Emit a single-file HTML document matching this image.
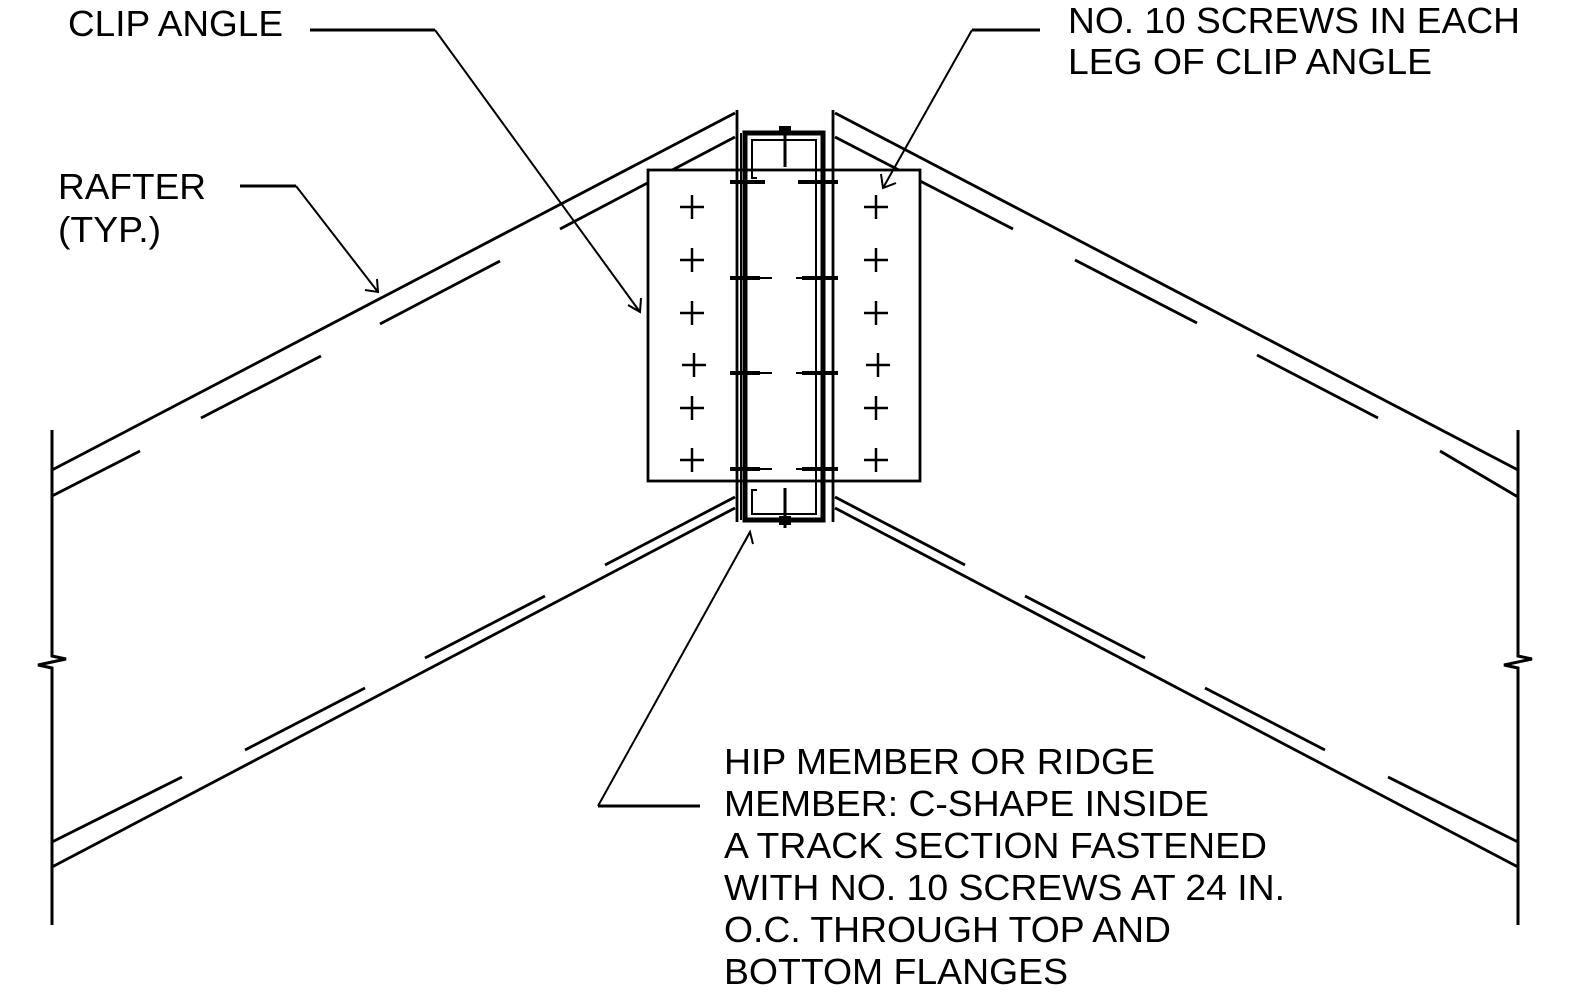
<!DOCTYPE html>
<html><head><style>html,body{margin:0;padding:0;background:#fff}svg{display:block}</style></head>
<body>
<svg width="1570" height="997" viewBox="0 0 1570 997" xmlns="http://www.w3.org/2000/svg" font-family="Liberation Sans, Arial, sans-serif" font-size="36" fill="#000">
<g stroke="#000" stroke-width="2.8" fill="none" stroke-linecap="butt">
<line x1="52" y1="470" x2="735" y2="113"/>
<line x1="52" y1="496" x2="140" y2="451"/>
<line x1="201" y1="418" x2="321" y2="356"/>
<line x1="380" y1="324" x2="500" y2="261"/>
<line x1="560" y1="229" x2="735" y2="137"/>
<line x1="52" y1="867" x2="735" y2="508"/>
<line x1="52" y1="842" x2="182" y2="777"/>
<line x1="245" y1="750" x2="365" y2="688"/>
<line x1="425" y1="658" x2="545" y2="596"/>
<line x1="605" y1="565" x2="735" y2="497"/>
<line x1="835" y1="113" x2="1518" y2="470"/>
<line x1="835" y1="137" x2="1013" y2="229"/>
<line x1="1075" y1="260" x2="1197" y2="323"/>
<line x1="1257" y1="355" x2="1378" y2="418"/>
<line x1="1440" y1="451" x2="1518" y2="497"/>
<line x1="835" y1="508" x2="1518" y2="867"/>
<line x1="835" y1="497" x2="965" y2="565"/>
<line x1="1025" y1="596" x2="1145" y2="658"/>
<line x1="1205" y1="688" x2="1325" y2="750"/>
<line x1="1388" y1="777" x2="1518" y2="842"/>
<polyline stroke-width="3" points="52,430 52,656 66,659 38,665 52,668 52,925"/>
<polyline stroke-width="3" points="1518,430 1518,656 1532,659 1504,665 1518,668 1518,925"/>
<line x1="737" y1="110" x2="737" y2="522"/>
<line x1="833" y1="110" x2="833" y2="522"/>
<rect x="648" y="170" width="272" height="311" fill="#fff"/>
<line x1="737" y1="170" x2="737" y2="481"/>
<line x1="833" y1="170" x2="833" y2="481"/>
<rect x="745" y="133" width="78" height="387" stroke-width="5"/>
<polyline stroke-width="2" points="757,178 752,178 752,140 816,140 816,514 752,514 752,490 757,490"/>
<line x1="741" y1="133" x2="741" y2="520" stroke-width="2"/>
<line x1="785" y1="126" x2="785" y2="167" stroke-width="3"/>
<rect x="779" y="126" width="12" height="8" fill="#000" stroke="none"/>
<line x1="785" y1="488" x2="785" y2="528" stroke-width="3"/>
<rect x="779" y="516" width="12" height="9" fill="#000" stroke="none"/>
<g stroke-width="4">
<line x1="730" y1="182" x2="765" y2="182"/><line x1="798" y1="182" x2="838" y2="182"/>
<line x1="730" y1="278" x2="760" y2="278"/><line x1="802" y1="278" x2="838" y2="278"/>
<line x1="730" y1="373" x2="760" y2="373"/><line x1="802" y1="373" x2="838" y2="373"/>
<line x1="730" y1="469" x2="760" y2="469"/><line x1="802" y1="469" x2="838" y2="469"/>
</g>
<g stroke-width="2">
<line x1="760" y1="278" x2="772" y2="278"/><line x1="796" y1="278" x2="802" y2="278"/>
<line x1="760" y1="373" x2="772" y2="373"/><line x1="796" y1="373" x2="802" y2="373"/>
<line x1="760" y1="469" x2="772" y2="469"/><line x1="796" y1="469" x2="802" y2="469"/>
</g>
<g stroke-width="2.5">
<path d="M680 207h24M692 195v24 M680 260h24M692 248v24 M680 313h24M692 301v24 M682 365h24M694 353v24 M680 408h24M692 396v24 M680 460h24M692 448v24"/>
<path d="M864 207h24M876 195v24 M864 260h24M876 248v24 M864 313h24M876 301v24 M866 365h24M878 353v24 M864 408h24M876 396v24 M864 460h24M876 448v24"/>
</g>
<polyline stroke-width="3" points="310,30 435,30"/>
<polyline stroke-width="2" points="435,30 640,312"/>
<polyline stroke-width="2" points="628,305 640,312 641,298"/>
<polyline stroke-width="3" points="1040,30 972,30"/>
<polyline stroke-width="2" points="972,30 883,188"/>
<polyline stroke-width="2" points="881,174 883,188 896,183"/>
<polyline stroke-width="3" points="240,186 296,186"/>
<polyline stroke-width="2" points="296,186 378,292"/>
<polyline stroke-width="2" points="365,290 378,292 377,279"/>
<polyline stroke-width="3" points="700,806 598,806"/>
<polyline stroke-width="2" points="598,806 750,532"/>
<polyline stroke-width="2" points="744,543 750,532 753,544"/>
</g>
<g stroke="none">
<text x="68" y="36" textLength="215" lengthAdjust="spacingAndGlyphs">CLIP ANGLE</text>
<text x="1068" y="33" textLength="452" lengthAdjust="spacingAndGlyphs">NO. 10 SCREWS IN EACH</text>
<text x="1068" y="74" textLength="364" lengthAdjust="spacingAndGlyphs">LEG OF CLIP ANGLE</text>
<text x="58" y="199" textLength="148" lengthAdjust="spacingAndGlyphs">RAFTER</text>
<text x="58" y="242" textLength="103" lengthAdjust="spacingAndGlyphs">(TYP.)</text>
<text x="724" y="774" textLength="431" lengthAdjust="spacingAndGlyphs">HIP MEMBER OR RIDGE</text>
<text x="724" y="816" textLength="485" lengthAdjust="spacingAndGlyphs">MEMBER: C-SHAPE INSIDE</text>
<text x="724" y="858" textLength="543" lengthAdjust="spacingAndGlyphs">A TRACK SECTION FASTENED</text>
<text x="724" y="900" textLength="561" lengthAdjust="spacingAndGlyphs">WITH NO. 10 SCREWS AT 24 IN.</text>
<text x="724" y="942" textLength="447" lengthAdjust="spacingAndGlyphs">O.C. THROUGH TOP AND</text>
<text x="724" y="984" textLength="344" lengthAdjust="spacingAndGlyphs">BOTTOM FLANGES</text>
</g>
</svg>
</body></html>
